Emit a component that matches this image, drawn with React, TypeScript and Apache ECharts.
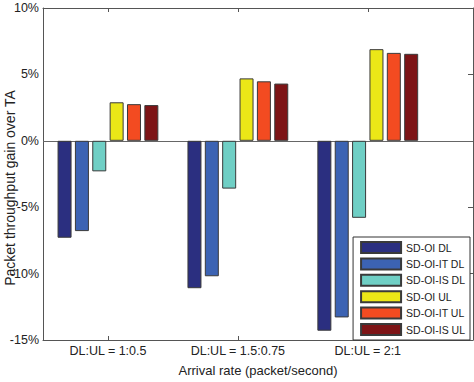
import React, { useEffect, useRef } from "react";
import * as echarts from "echarts";

const categories = ["DL:UL = 1:0.5", "DL:UL = 1.5:0.75", "DL:UL = 2:1"];
const seriesNames = ["SD-OI DL", "SD-OI-IT DL", "SD-OI-IS DL", "SD-OI UL", "SD-OI-IT UL", "SD-OI-IS UL"];
const sdOiDl = [-7.3, -11.1, -14.3];
const sdOiItDl = [-6.8, -10.2, -13.3];
const sdOiIsDl = [-2.3, -3.6, -5.8];
const sdOiUl = [2.9, 4.7, 6.9];
const sdOiItUl = [2.76, 4.48, 6.62];
const sdOiIsUl = [2.69, 4.31, 6.55];
const yTicks = [-15, -10, -5, 0, 5, 10];
const colors = ["#2b2f80", "#3c63b3", "#6fcfc5", "#ebe717", "#f34b21", "#7d1416"];

const FONT = "'Liberation Sans', Arial, Helvetica, sans-serif";

export default function App() {
  const ref = useRef<HTMLDivElement>(null);
  useEffect(() => {
    if (!ref.current) return;
    const chart = echarts.init(ref.current, undefined, { renderer: "svg" });
    const values = [sdOiDl, sdOiItDl, sdOiIsDl, sdOiUl, sdOiItUl, sdOiIsUl];
    const xPos = categories.map((_, i) => i + 1);
    const series: any[] = values.map((vals, si) => ({
      name: seriesNames[si],
      type: "bar",
      xAxisIndex: 0,
      yAxisIndex: 0,
      barWidth: 14,
      barGap: "24%",
      data: vals.map((v, i) => [xPos[i], v]),
      itemStyle: { color: colors[si], borderColor: "#3a3a3a", borderWidth: 1 },
      ...(si === 0
        ? {
            markLine: {
              silent: true,
              symbol: "none",
              label: { show: false },
              lineStyle: { color: "#666", width: 1, type: "solid" },
              data: [{ yAxis: 0 }],
              z: 1,
            },
          }
        : {}),
    }));
    const xCommon = {
      type: "value",
      min: 0.5,
      max: 3.81,
      splitLine: { show: false },
      axisLine: { show: true, onZero: false, lineStyle: { color: "#555", width: 1 } },
    };
    chart.setOption({
      animation: false,
      backgroundColor: "#fff",
      grid: { left: 43, right: 1, top: 8, bottom: 37 },
      legend: {
        orient: "vertical",
        right: 4,
        top: 237,
        z: 10,
        icon: "rect",
        itemWidth: 40,
        itemHeight: 11,
        itemGap: 3.4,
        padding: [4, 5, 4, 7],
        borderColor: "#333",
        borderWidth: 1,
        backgroundColor: "#fff",
        textStyle: { fontSize: 10.5, color: "#222", fontFamily: FONT },
        data: seriesNames,
      },
      xAxis: [
        {
          ...xCommon,
          position: "bottom",
          name: "Arrival rate (packet/second)",
          nameLocation: "middle",
          nameGap: 24,
          nameTextStyle: { fontSize: 13, color: "#222", fontFamily: FONT },
          axisTick: { show: true, inside: true, length: 4, customValues: xPos, lineStyle: { color: "#555" } },
          axisLabel: {
            show: true,
            customValues: xPos,
            margin: 4,
            fontSize: 12.5,
            color: "#222",
            fontFamily: FONT,
            formatter: (v: number) => categories[Math.round(v) - 1] ?? "",
          },
        },
        {
          ...xCommon,
          position: "top",
          axisTick: { show: true, inside: true, length: 4, customValues: xPos, lineStyle: { color: "#555" } },
          axisLabel: { show: false },
        },
      ],
      yAxis: [
        {
          type: "value",
          position: "left",
          min: yTicks[0],
          max: yTicks[yTicks.length - 1],
          interval: 5,
          splitLine: { show: false },
          axisLine: { show: true, lineStyle: { color: "#555", width: 1 } },
          axisTick: { show: false },
          axisLabel: {
            margin: 4,
            fontSize: 12.5,
            color: "#222",
            fontFamily: FONT,
            formatter: (v: number) => `${v}%`,
          },
        },
        {
          type: "value",
          position: "right",
          min: yTicks[0],
          max: yTicks[yTicks.length - 1],
          interval: 5,
          splitLine: { show: false },
          axisLine: { show: true, lineStyle: { color: "#555", width: 1 } },
          axisTick: { show: true, inside: true, length: 5, lineStyle: { color: "#555" } },
          axisLabel: { show: false },
        },
      ],
      graphic: [
        {
          type: "text",
          x: 10,
          y: 188,
          rotation: Math.PI / 2,
          style: {
            text: "Packet throughput gain over TA",
            fontSize: 14,
            fill: "#222",
            fontFamily: FONT,
            align: "center",
            verticalAlign: "middle",
          },
        },
      ],
      series,
    });
    return () => chart.dispose();
  }, []);
  return <div ref={ref} style={{ position: "fixed", left: 0, top: 0, width: 474, height: 382 }} />;
}
